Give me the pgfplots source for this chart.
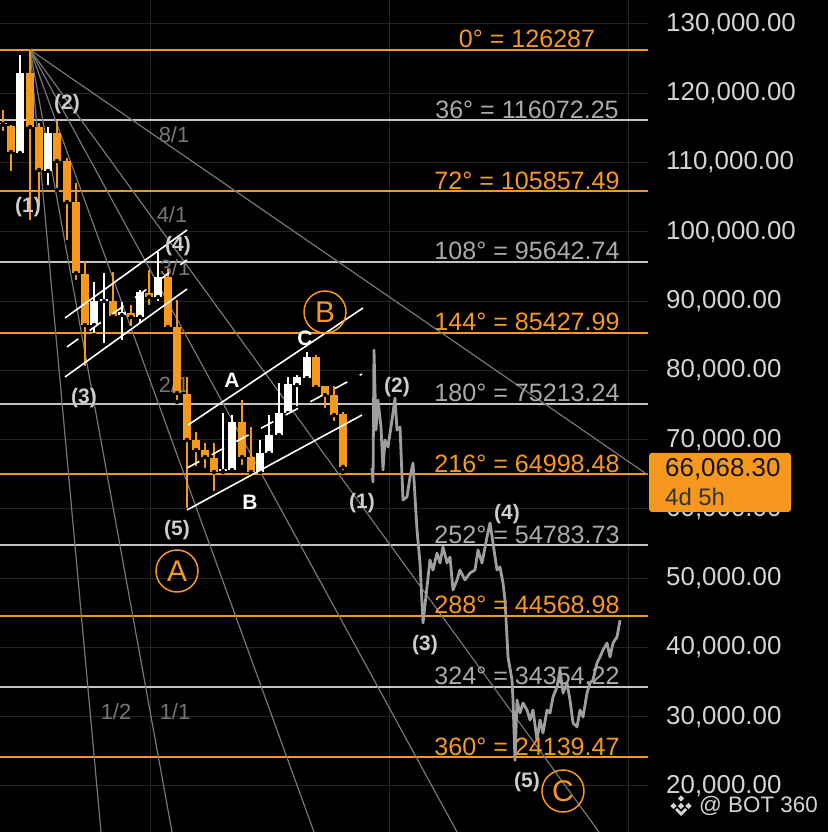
\documentclass[border=0pt]{standalone}
\usepackage{pgfplots}
\pgfplotsset{compat=1.18}
\usepackage{pgfplotstable}
\usepackage{fontspec}
\setmainfont{Liberation Sans}
\definecolor{cor}{RGB}{247,152,30}
\definecolor{lgray}{RGB}{195,195,195}
\definecolor{tgray}{RGB}{170,170,170}
\definecolor{fgray}{RGB}{118,118,118}
\definecolor{gridc}{RGB}{36,36,36}
\definecolor{pathc}{RGB}{158,158,158}
\definecolor{wavec}{RGB}{205,205,205}
\definecolor{tickc}{RGB}{212,212,212}
\newcommand\tickf{\fontsize{26}{30}\selectfont}
\newcommand\lvlf{\fontsize{25.2}{29}\selectfont}
\newcommand\fanf{\fontsize{22}{26}\selectfont}
\newcommand\wavef{\fontsize{21}{24}\selectfont\bfseries}
\newcommand\circf{\fontsize{30}{34}\selectfont}

\pgfplotstableread{
x o h l c
3 115709 117585 114265 115492
11 115276 115420 108491 111522
30 122927 126287 101417 115131
39 115131 115709 103438 108924
57 114265 115997 106037 110223
67 110223 110656 98530 104304
76 104304 107047 92755 94055
85 93911 95643 80341 86548
113 90013 94199 87414 87847
131 88280 89435 86115 87703
149 91168 94488 89146 90590
168 93477 94632 85826 86259
177 86259 90157 75432 76732
187 76588 79041 59841 69947
196 69947 71101 65905 68503
205 68503 69514 65616 67492
214 67348 69514 62296 65327
242 72545 75721 66049 67492
251 67492 71823 64894 65327
316 81928 82217 77165 77598
325 77742 77742 74277 76443
334 76443 77742 72400 73555
343 73699 73988 65327 66068
}\orangec

\pgfplotstableread{
x o h l c
20 111378 125525 111090 122927
48 108780 115131 106470 114265
94 86548 92755 85104 90013
104 90013 94055 83661 90302
122 87991 89868 84094 88424
140 87703 91601 86548 91312
158 90590 97086 89724 93477
223 65472 73844 65327 65760
232 65616 73555 65616 72545
260 65327 69947 65327 68070
269 68070 73555 68070 70668
279 70668 78175 70668 73844
288 73844 79041 73844 78031
297 77886 79330 74566 79041
307 78896 82650 78896 81928
}\whitec

\pgfplotstableread{
x y
372 65905
373 63883
374 82939
376 71390
378 75721
381 71823
383 65616
385 69947
388 68936
392 72834
395 76010
397 71390
400 71823
403 61285
407 61718
410 64605
413 66626
415 61718
417 56954
420 52190
423 43529
427 48726
430 52624
433 51180
437 53634
440 52190
443 54500
447 52190
450 53056
453 48293
457 49737
460 51180
465 49737
470 50747
475 51180
478 54067
482 52190
487 55944
490 57965
493 55078
497 51180
500 51614
503 49304
505 46849
508 38620
512 35300
513 32413
515 23712
517 32413
520 30536
523 31980
527 30969
530 29526
533 30969
537 26638
540 29526
543 27649
547 30969
550 30536
553 32846
557 34290
560 36744
563 33424
567 34867
570 32413
573 29093
577 28516
580 30969
583 29959
587 33424
590 34867
593 35300
597 37755
600 38621
603 39631
607 40642
610 38621
613 40642
617 41508
620 43919
}\gpath

\begin{document}
\begin{tikzpicture}
\path[use as bounding box] (0,0) rectangle (828bp,832bp);
\fill[black] (0,0) rectangle (828bp,832bp);
\begin{axis}[
  at={(0,0)}, anchor=south west,
  scale only axis, width=648bp, height=832bp,
  xmin=0, xmax=648, ymin=13357, ymax=133465,
  axis line style={draw=none},
  tick style={draw=none},
  major tick length=0pt,
  xtick=\empty,
  ytick={20000,30000,40000,50000,60000,70000,80000,90000,100000,110000,120000,130000},
  yticklabels={{20,000.00},{30,000.00},{40,000.00},{50,000.00},{60,000.00},{70,000.00},{80,000.00},{90,000.00},{100,000.00},{110,000.00},{120,000.00},{130,000.00}},
  yticklabel pos=right,
  yticklabel style={anchor=west, inner sep=0pt, xshift=18bp, text=tickc, font=\tickf},
  ymajorgrids, grid style={gridc, line width=1bp},
  clip mode=individual,
]
% vertical grid
\addplot[gridc, line width=1bp] coordinates {(150,13357) (150,133465)};
\addplot[gridc, line width=1bp] coordinates {(389,13357) (389,133465)};
\addplot[gridc, line width=1bp] coordinates {(628,13357) (628,133465)};
% Gann levels
\addplot[cor, line width=2bp] coordinates {(0,126287) (648,126287)};
\addplot[lgray, line width=2bp] coordinates {(0,116072.25) (648,116072.25)};
\addplot[cor, line width=2bp] coordinates {(0,105857.49) (648,105857.49)};
\addplot[lgray, line width=2bp] coordinates {(0,95642.74) (648,95642.74)};
\addplot[cor, line width=2bp] coordinates {(0,85427.99) (648,85427.99)};
\addplot[lgray, line width=2bp] coordinates {(0,75213.24) (648,75213.24)};
\addplot[cor, line width=2bp] coordinates {(0,64998.48) (648,64998.48)};
\addplot[lgray, line width=2bp] coordinates {(0,54783.73) (648,54783.73)};
\addplot[cor, line width=2bp] coordinates {(0,44568.98) (648,44568.98)};
\addplot[lgray, line width=2bp] coordinates {(0,34354.22) (648,34354.22)};
\addplot[cor, line width=2bp] coordinates {(0,24139.47) (648,24139.47)};
% Gann fan
\addplot[fgray, line width=1.2bp] coordinates {(30,126287) (648,64894)};
\addplot[fgray, line width=1.2bp] coordinates {(30,126287) (599,13357)};
\addplot[fgray, line width=1.2bp] coordinates {(30,126287) (457,13357)};
\addplot[fgray, line width=1.2bp] coordinates {(30,126287) (314,13357)};
\addplot[fgray, line width=1.2bp] coordinates {(30,126287) (172,13357)};
\addplot[fgray, line width=1.2bp] coordinates {(30,126287) (101,13357)};
% fan labels (behind candles)
\node[text=fgray, font=\fanf] at (axis cs:174,113976) {8/1};
\node[text=fgray, font=\fanf] at (axis cs:172,102427) {4/1};
\node[text=fgray, font=\fanf] at (axis cs:175,94777) {3/1};
\node[text=fgray, font=\fanf] at (axis cs:174,77886) {2/1};
\node[text=fgray, font=\fanf] at (axis cs:175,30681) {1/1};
\node[text=fgray, font=\fanf] at (axis cs:116,30681) {1/2};
% candles
\addplot[only marks, mark=none, error bars/.cd, y dir=plus, y explicit, error mark=none,
  error bar style={draw=cor, line width=1.4bp}]
  table[x=x, y=l, y error plus expr=\thisrow{h}-\thisrow{l}] {\orangec};
\addplot[only marks, mark=none, error bars/.cd, y dir=plus, y explicit, error mark=none,
  error bar style={draw=cor, line width=7.6bp}]
  table[x=x, y=c, y error plus expr=\thisrow{o}-\thisrow{c}] {\orangec};
\addplot[only marks, mark=none, error bars/.cd, y dir=plus, y explicit, error mark=none,
  error bar style={draw=white, line width=1.4bp}]
  table[x=x, y=l, y error plus expr=\thisrow{h}-\thisrow{l}] {\whitec};
\addplot[only marks, mark=none, error bars/.cd, y dir=plus, y explicit, error mark=none,
  error bar style={draw=white, line width=7.6bp}]
  table[x=x, y=o, y error plus expr=\thisrow{c}-\thisrow{o}] {\whitec};
% channels
\addplot[white, line width=1.6bp] coordinates {(65,87559) (187,100262)};
\addplot[white, line width=1.6bp] coordinates {(65,79041) (187,91745)};
\addplot[white, line width=1.6bp, dash pattern=on 14bp off 14bp] coordinates {(67,83372) (187,95931)};
\addplot[white, line width=1.6bp] coordinates {(188,72112) (363,89003)};
\addplot[white, line width=1.6bp] coordinates {(187,59841) (362,73555)};
\addplot[white, line width=1.6bp, dash pattern=on 14bp off 14bp] coordinates {(187,65905) (362,79474)};
% projected path
\addplot[pathc, line width=2.8bp, line join=round] table[x=x,y=y] {\gpath};
% level labels
\node[anchor=base, yshift=2bp, text=cor, font=\lvlf] at (axis cs:527,126287) {0° = 126287};
\node[anchor=base, yshift=2bp, text=tgray, font=\lvlf] at (axis cs:527,116072.25) {36° = 116072.25};
\node[anchor=base, yshift=2bp, text=cor, font=\lvlf] at (axis cs:527,105857.49) {72° = 105857.49};
\node[anchor=base, yshift=2bp, text=tgray, font=\lvlf] at (axis cs:527,95642.74) {108° = 95642.74};
\node[anchor=base, yshift=2bp, text=cor, font=\lvlf] at (axis cs:527,85427.99) {144° = 85427.99};
\node[anchor=base, yshift=2bp, text=tgray, font=\lvlf] at (axis cs:527,75213.24) {180° = 75213.24};
\node[anchor=base, yshift=2bp, text=cor, font=\lvlf] at (axis cs:527,64998.48) {216° = 64998.48};
\node[anchor=base, yshift=2bp, text=tgray, font=\lvlf] at (axis cs:527,54783.73) {252° = 54783.73};
\node[anchor=base, yshift=2bp, text=cor, font=\lvlf] at (axis cs:527,44568.98) {288° = 44568.98};
\node[anchor=base, yshift=2bp, text=tgray, font=\lvlf] at (axis cs:527,34354.22) {324° = 34354.22};
\node[anchor=base, yshift=2bp, text=cor, font=\lvlf] at (axis cs:527,24139.47) {360° = 24139.47};
% wave labels
\node[text=wavec, font=\wavef] at (axis cs:28,103582) {(1)};
\node[text=wavec, font=\wavef] at (axis cs:67,118452) {(2)};
\node[text=wavec, font=\wavef] at (axis cs:84,76010) {(3)};
\node[text=wavec, font=\wavef] at (axis cs:178,97953) {(4)};
\node[text=wavec, font=\wavef] at (axis cs:177,56954) {(5)};
\node[text=white, font=\wavef] at (axis cs:232,78608) {A};
\node[text=white, font=\wavef] at (axis cs:250,60995) {B};
\node[text=white, font=\wavef] at (axis cs:305,84673) {C};
\node[text=wavec, font=\wavef] at (axis cs:362,60851) {(1)};
\node[text=wavec, font=\wavef] at (axis cs:397,77598) {(2)};
\node[text=wavec, font=\wavef] at (axis cs:425,40353) {(3)};
\node[text=wavec, font=\wavef] at (axis cs:507,59264) {(4)};
\node[text=wavec, font=\wavef] at (axis cs:527,20577) {(5)};
\node[circle, draw=cor, line width=1.5bp, minimum size=42bp, inner sep=0pt, text=cor, font=\circf] at (axis cs:177,51036) {A};
\node[circle, draw=cor, line width=1.5bp, minimum size=42bp, inner sep=0pt, text=cor, font=\circf] at (axis cs:325,88424) {B};
\node[circle, draw=cor, line width=1.5bp, minimum size=42bp, inner sep=0pt, text=cor, font=\circf] at (axis cs:563,19276) {C};
\end{axis}
% price box
\fill[cor, rounded corners=3bp] (649bp,320bp) rectangle (791bp,379bp);
\node[anchor=west, inner sep=0pt, text={black!92}, font=\tickf] at (665bp,363bp) {66,068.30};
\node[anchor=west, inner sep=0pt, text={black!80}, font=\fontsize{24}{28}\selectfont] at (665bp,335bp) {4d 5h};
% watermark
\begin{scope}[shift={(681bp,26bp)}]
  \foreach \dx/\dy in {0/0, 0/7.5, 7.5/0, -7.5/0}{
    \fill[tickc] (\dx bp,\dy bp+3.2bp) -- (\dx bp+3.2bp,\dy bp) -- (\dx bp,\dy bp-3.2bp) -- (\dx bp-3.2bp,\dy bp) -- cycle;
  }
  \fill[tickc] (-6bp,-4bp) -- (0,-10bp) -- (6bp,-4bp) -- (4bp,-2bp) -- (0,-6bp) -- (-4bp,-2bp) -- cycle;
\end{scope}
\node[anchor=west, inner sep=0pt, text=tickc, font=\fontsize{22.5}{26}\selectfont] at (699bp,26bp) {@ BOT 360};
\end{tikzpicture}
\end{document}
